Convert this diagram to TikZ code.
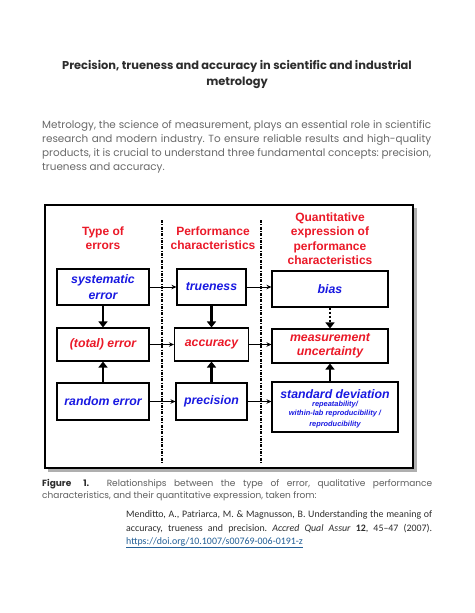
\documentclass[tikz,border=0pt]{standalone}
\usepackage{fontspec}
\setmainfont{Poppins}
\newfontfamily\arialb{Liberation Sans}
\newfontfamily\calib{Carlito}
\usetikzlibrary{arrows.meta}
\definecolor{dred}{RGB}{235,25,40}
\definecolor{dblue}{RGB}{25,25,225}
\definecolor{txtgray}{RGB}{105,105,105}
\definecolor{titlec}{RGB}{45,45,45}
\definecolor{capgray}{RGB}{95,95,95}
\definecolor{linkblue}{RGB}{35,95,150}
\definecolor{shadowc}{RGB}{175,175,175}
\newcommand\dgboxfont{\arialb\bfseries\itshape\fontsize{12.3}{15.5}\selectfont}
\frenchspacing
\begin{document}
\begin{tikzpicture}[x=1pt,y=-1pt,
  bx/.style={draw,line width=1.1pt,fill=white,inner sep=0pt,align=center,font=\dgboxfont},
  blu/.style={text=dblue},
  rd/.style={text=dred},
  hdr/.style={align=center,text=dred,inner sep=0pt,font=\arialb\bfseries\fontsize{12}{14.5}\selectfont},
  thinar/.style={line width=0.9pt,-{Stealth[length=5pt,width=4.5pt]}},
  thickar/.style={line width=2.8pt,-{Triangle[length=6pt,width=9pt]}},
  sepline/.style={line width=1.1pt,dash pattern=on 3pt off 1.3pt on 1pt off 1.3pt},
  txt/.style={anchor=base west,inner sep=0pt}]
\fill[white] (0,0) rectangle (474,613);
\useasboundingbox (0,0) rectangle (474,613);

% title
\node[inner sep=0pt,anchor=base,text=titlec,font=\bfseries\fontsize{11.4}{13}\selectfont] (t1) at (237,69) {Precision, trueness and accuracy in scientific and industrial};
\node[inner sep=0pt,anchor=base,text=titlec,font=\bfseries\fontsize{11.4}{13}\selectfont] (t2) at (237,85.5) {metrology};

% paragraph
\begin{scope}[every node/.style={txt,text=txtgray,font=\fontsize{10.4}{12}\selectfont}]
\node (p1) at (42,128.5) {\makebox[389pt][s]{Metrology, the science of measurement, plays an essential role in scientific}};
\node (p2) at (42,142.5) {\makebox[389pt][s]{research and modern industry. To ensure reliable results and high-quality}};
\node (p3) at (42,156.5) {\makebox[389pt][s]{products, it is crucial to understand three fundamental concepts: precision,}};
\node (p4) at (42,170.5) {trueness and accuracy.};
\end{scope}

% frame
\fill[shadowc] (48,208) rectangle (416.5,471.5);
\draw[line width=2pt,fill=white] (45,205) rectangle (413,468);
\coordinate (s1t) at (162,220);
\coordinate (s1b) at (162,463);
\coordinate (s2t) at (261,220);
\coordinate (s2b) at (261,463);
\draw[sepline] (s1t) -- (s1b);
\draw[sepline] (s2t) -- (s2b);

% headers
\node[hdr] (h1) at (103,238) {Type of\\errors};
\node[hdr] (h2) at (213,238) {Performance\\characteristics};
\node[hdr] (h3) at (330,238.5) {Quantitative\\expression of\\performance\\characteristics};

% boxes
\node[bx,blu,minimum width=92pt,minimum height=36pt] (sys) at (103,287) {systematic\\error};
\node[bx,rd,minimum width=92pt,minimum height=33pt] (tot) at (103,344.5) {(total) error};
\node[bx,blu,minimum width=92pt,minimum height=37pt] (rnd) at (103,401.5) {random error};
\node[bx,blu,minimum width=69pt,minimum height=36pt] (tru) at (211.5,287) {trueness};
\node[bx,rd,minimum width=74pt,minimum height=33pt] (acc) at (211.5,344.5) {accuracy};
\node[bx,blu,minimum width=71pt,minimum height=37pt] (pre) at (211.5,401.5) {precision};
\node[bx,blu,minimum width=116pt,minimum height=36pt] (bias) at (330,289) {bias};
\node[bx,rd,minimum width=116pt,minimum height=34pt,font=\arialb\bfseries\itshape\fontsize{12.3}{13.5}\selectfont] (mu) at (330,346) {measurement\\uncertainty};
\node[bx,minimum width=126pt,minimum height=50pt] (std) at (335,407) {};
\node[inner sep=0pt,text=dblue,font=\arialb\bfseries\itshape\fontsize{12.3}{14}\selectfont] (stdt) at (335,394) {standard deviation};
\begin{scope}[every node/.style={inner sep=0pt,text=dblue,font=\arialb\bfseries\itshape\fontsize{7.4}{9}\selectfont}]
\node (sd1) at (335,404.5) {repeatability/};
\node (sd2) at (335,414) {within-lab reproducibility /};
\node (sd3) at (335,425) {reproducibility};
\end{scope}

% horizontal arrows
\draw[thinar] (sys.east) -- (sys.east -| tru.west);
\draw[thinar] (tru.east) -- (tru.east -| bias.west);
\draw[thinar] (tot.east) -- (tot.east -| acc.west);
\draw[thinar] (acc.east) -- (acc.east -| mu.west);
\draw[thinar] (rnd.east) -- (rnd.east -| pre.west);
\draw[thinar] (pre.east) -- (pre.east -| std.west);

% vertical arrows
\draw[thickar] (sys.south) -- (tot.north);
\draw[thickar] (rnd.north) -- (tot.south);
\draw[thickar] (tru.south) -- (acc.north);
\draw[thickar] (pre.north) -- (acc.south);
\draw[thickar] (mu.south |- std.north) -- (mu.south);
\draw[line width=2.6pt,dash pattern=on 2pt off 2pt,-{Triangle[length=6pt,width=9pt]}] (bias.south) -- (mu.north);

% caption
\node[txt,text=capgray,font=\fontsize{9}{11}\selectfont] (c1) at (42,486.5) {\makebox[390pt][s]{\textcolor{titlec}{\bfseries Figure\ \ 1.}\hspace{10pt} Relationships between the type of error, qualitative performance}};
\node[txt,text=capgray,font=\fontsize{9}{11}\selectfont] (c2) at (42,498) {characteristics, and their quantitative expression, taken from:};

% reference
\begin{scope}[every node/.style={txt,text=titlec,font=\calib\fontsize{9.9}{12}\selectfont}]
\node (r1) at (126,517) {\makebox[306pt][s]{Menditto, A., Patriarca, M. \& Magnusson, B. Understanding the meaning of}};
\node (r2) at (126,531) {\makebox[306pt][s]{accuracy, trueness and precision. \textit{Accred Qual Assur} \textbf{12}, 45–47 (2007).}};
\node[text=linkblue] (r3) at (126,544.5) {\underline{https://doi.org/10.1007/s00769-006-0191-z}};
\end{scope}
\end{tikzpicture}
\end{document}
